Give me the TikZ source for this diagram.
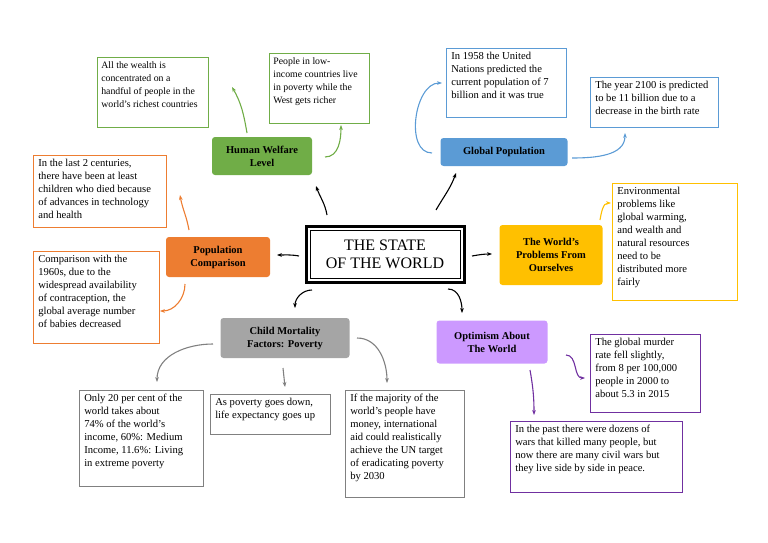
\documentclass[tikz,border=0pt]{standalone}
\usepackage{fontspec}
\setmainfont{Liberation Serif}
\usetikzlibrary{arrows.meta}
\definecolor{cgreen}{HTML}{70AD47}
\definecolor{cblue}{HTML}{5B9BD5}
\definecolor{cyel}{HTML}{FFC000}
\definecolor{corange}{HTML}{ED7D31}
\definecolor{cgray}{HTML}{A5A5A5}
\definecolor{cpurp}{HTML}{CC99FF}
\definecolor{lpurp}{HTML}{7030A0}
\newcommand{\tbx}[3]{\parbox[t][#1][t]{#2}{\raggedright #3}}
\tikzset{
 tbox/.style={draw=#1,line width=0.6pt,fill=white,anchor=north west,font=\fontsize{10.6}{13}\selectfont,inner xsep=5pt,inner ysep=4pt},
 small/.style={font=\fontsize{9.8}{13}\selectfont,inner xsep=4pt},
 topic/.style={fill=#1,rounded corners=3pt,align=center,font=\bfseries\fontsize{10.5}{13}\selectfont,minimum height=28pt},
 con/.style={-{Stealth[length=5pt]},line width=1.1pt,draw=#1},
}
\begin{document}
\begin{tikzpicture}[x=1pt,y=-1pt]
\useasboundingbox (0,0) rectangle (768,543);
% center
\node[draw=black,line width=3pt,minimum width=158pt,minimum height=56pt,inner sep=0pt] (c) at (385,254) {};
\node[draw=black,line width=0.4pt,minimum width=150pt,minimum height=48pt,align=center,font=\fontsize{16}{18}\selectfont] (ct) at (385,254) {THE STATE\\OF THE WORLD};
% topics
\node[topic=cgreen,minimum width=100pt,minimum height=38pt] (hw) at (262,156) {Human Welfare\\Level};
\node[topic=cblue,minimum width=127pt] (gp) at (504,152) {Global Population};
\node[topic=cyel,minimum width=103pt,minimum height=60pt] (wp) at (551,255) {The World's\\Problems From\\Ourselves};
\node[topic=corange,minimum width=104pt,minimum height=40pt] (pc) at (218,257) {Population\\Comparison};
\node[topic=cgray,minimum width=129pt,minimum height=40pt] (cm) at (285,338) {Child Mortality\\Factors: Poverty};
\node[topic=cpurp,minimum width=111pt,minimum height=43pt] (op) at (492,342) {Optimism About\\The World};
% text boxes
\node[tbox=cgreen,small] (t1) at (97,57) {\tbx{62pt}{103pt}{All the wealth is\\concentrated on a\\handful of people in the\\world's richest countries}};
\node[tbox=cgreen,small] (t2) at (269,53) {\tbx{62pt}{92pt}{People in low-\\income countries live\\in poverty while the\\West gets richer}};
\node[tbox=cblue] (t3) at (446,48) {\tbx{61pt}{110pt}{In 1958 the United\\Nations predicted the\\current population of 7\\billion and it was true}};
\node[tbox=cblue] (t4) at (590,77) {\tbx{42pt}{118pt}{The year 2100 is predicted\\to be 11 billion due to a\\decrease in the birth rate}};
\node[tbox=corange] (t5) at (33,155) {\tbx{64pt}{123pt}{In the last 2 centuries,\\there have been at least\\children who died because\\of advances in technology\\and health}};
\node[tbox=corange] (t6) at (33,251) {\tbx{84pt}{116pt}{Comparison with the\\1960s, due to the\\widespread availability\\of contraception, the\\global average number\\of babies decreased}};
\node[tbox=cyel] (t7) at (612,183) {\tbx{109pt}{115pt}{Environmental\\problems like\\global warming,\\and wealth and\\natural resources\\need to be\\distributed more\\fairly}};
\node[tbox=gray] (t8) at (79,390) {\tbx{88pt}{114pt}{Only 20 per cent of the\\world takes about\\74\% of the world's\\income, 60\%: Medium\\Income, 11.6\%: Living\\in extreme poverty}};
\node[tbox=gray] (t9) at (210,394) {\tbx{32pt}{110pt}{As poverty goes down,\\life expectancy goes up}};
\node[tbox=gray] (t10) at (345,390) {\tbx{99pt}{109pt}{If the majority of the\\world's people have\\money, international\\aid could realistically\\achieve the UN target\\of eradicating poverty\\by 2030}};
\node[tbox=lpurp] (t11) at (590,334) {\tbx{70pt}{100pt}{The global murder\\rate fell slightly,\\from 8 per 100,000\\people in 2000 to\\about 5.3 in 2015}};
\node[tbox=lpurp] (t12) at (510,421) {\tbx{63pt}{162pt}{In the past there were dozens of\\wars that killed many people, but\\now there are many civil wars but\\they live side by side in peace.}};
% center connectors
\coordinate (a1) at (327,215); \coordinate (a2) at (316,186);
\draw[con=black] (a1) to[out=100,in=-70] (a2);
\coordinate (b1) at (436,210); \coordinate (b2) at (456,173);
\draw[con=black] (b1) to[out=60,in=-110] (b2);
\coordinate (d1) at (299,256); \coordinate (d2) at (277,255);
\draw[con=black] (d1) to[out=170,in=0] (d2);
\coordinate (e1) at (472,256); \coordinate (e2) at (492,254);
\draw[con=black] (e1) to[out=10,in=180] (e2);
\coordinate (f1) at (312,290); \coordinate (f2) at (295,308);
\draw[con=black] (f1) to[out=180,in=90] (f2);
\coordinate (g1) at (448,289); \coordinate (g2) at (462,313);
\draw[con=black] (g1) to[out=0,in=90] (g2);
% colored connectors
\coordinate (h1) at (247,133); \coordinate (h2) at (232,87);
\draw[con=cgreen] (h1) to[out=100,in=-60] (h2);
\coordinate (i1) at (325,157); \coordinate (i2) at (341,125);
\draw[con=cgreen] (i1) to[out=0,in=-90] (i2);
\coordinate (j1) at (432,153); \coordinate (j2) at (442,83);
\draw[con=cblue] (j1) to[out=180,in=180] (j2);
\coordinate (k0) at (572,158); \coordinate (k3) at (625,133);
\draw[con=cblue] (k0) to[out=0,in=-90] (k3);
\coordinate (k1) at (189,230); \coordinate (k2) at (180,195);
\draw[con=corange] (k1) to[out=100,in=-80] (k2);
\coordinate (l1) at (185,284); \coordinate (l2) at (160,311);
\draw[con=corange] (l1) to[out=-90,in=0] (l2);
\coordinate (m1) at (600,220); \coordinate (m2) at (611,203);
\draw[con=cyel] (m1) to[out=80,in=180] (m2);
\coordinate (n1) at (213,344); \coordinate (n2) at (157,382);
\draw[con=gray] (n1) to[out=180,in=90] (n2);
\coordinate (o1) at (283,368); \coordinate (o2) at (285,387);
\draw[con=gray] (o1) to (o2);
\coordinate (p1) at (357,338); \coordinate (p2) at (387,383);
\draw[con=gray] (p1) to[out=0,in=90] (p2);
\coordinate (q1) at (566,355); \coordinate (q2) at (585,378);
\draw[con=lpurp] (q1) to[out=0,in=180] (q2);
\coordinate (r1) at (530,370); \coordinate (r2) at (534,415);
\draw[con=lpurp] (r1) to[out=-80,in=90] (r2);
\end{tikzpicture}
\end{document}
